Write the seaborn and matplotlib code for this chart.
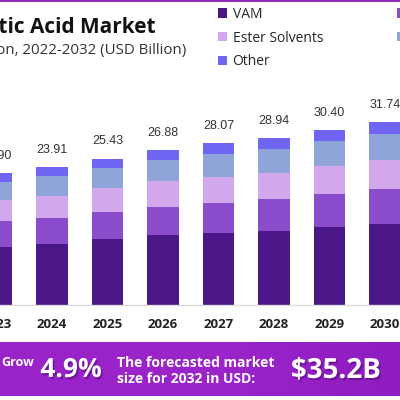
import numpy as np
import pandas as pd
import matplotlib
matplotlib.use("Agg")
import matplotlib.pyplot as plt
import matplotlib.patheffects as pe
from matplotlib.patches import Patch, Rectangle
from matplotlib.colors import LinearSegmentedColormap
import seaborn as sns

# values (USD billion)
years = ['2023', '2024', '2025', '2026', '2027', '2028', '2029', '2030']
totals = [22.90, 23.91, 25.43, 26.88, 28.07, 28.94, 30.40, 31.74]
vam = [10.07, 10.62, 11.39, 12.10, 12.48, 12.87, 13.54, 14.12]
anhydride = [4.44, 4.56, 4.80, 4.97, 5.30, 5.55, 5.72, 6.01]
ester = [3.64, 3.76, 4.16, 4.44, 4.51, 4.56, 4.90, 5.08]
pta = [3.29, 3.41, 3.40, 3.64, 3.93, 4.05, 4.28, 4.45]
other = [1.46, 1.56, 1.68, 1.73, 1.85, 1.91, 1.96, 2.08]

segments = ['VAM', 'Acetic Anhydride', 'Ester Solvents', 'PTA', 'Other']
colors = ['#4b1688', '#8a4ccb', '#d3a7ec', '#8fa5da', '#7065f2']

df = pd.DataFrame({'year': years, 'VAM': vam, 'Acetic Anhydride': anhydride,
                   'Ester Solvents': ester, 'PTA': pta, 'Other': other})
cum = df[segments].cumsum(axis=1)

sns.set_theme(style='white')
plt.rcParams['font.family'] = ['Open Sans', 'DejaVu Sans']

fig = plt.figure(figsize=(4, 4), dpi=100)
fig.patch.set_facecolor('white')

# bar area (extends a bit past the figure edges, the chart is cropped)
ax = fig.add_axes([-0.05, 95 / 400, 1.1, 305 / 400])
ax.set_facecolor('none')
for seg, col in reversed(list(zip(segments, colors))):
    sns.barplot(x=df['year'], y=cum[seg], color=col, width=0.56,
                saturation=1, linewidth=0, order=years, ax=ax)

ax.set_xlim(-0.297, 7.631)
ax.set_ylim(0, 305 / 5.76)
ax.set_xlabel('')
ax.set_ylabel('')
ax.set_yticks([])
ax.tick_params(axis='x', length=0, pad=9)
for lab in ax.get_xticklabels():
    lab.set_fontsize(9.5)
    lab.set_fontweight('bold')
    lab.set_color('#222222')
for s in ['top', 'left', 'right']:
    ax.spines[s].set_visible(False)
ax.spines['bottom'].set_color('#dddddd')
ax.spines['bottom'].set_linewidth(1)

for i, t in enumerate(totals):
    ax.annotate(f'{t:.2f}', (i, cum['Other'][i]), xytext=(0, 8),
                textcoords='offset points', ha='center', va='bottom',
                fontsize=9, color='#333333', family=['Liberation Sans'])

# title (left part cropped off)
fig.text(156 / 400, 1 - 33 / 400, 'Acetic Acid Market', ha='right',
         va='baseline', fontsize=15, fontweight='bold', color='#111111')
fig.text(186 / 400, 1 - 54 / 400, 'By Application, 2022-2032 (USD Billion)',
         ha='right', va='baseline', fontsize=10.8, color='#333333')

# legend
handles = [Patch(facecolor=c, edgecolor='none', label=s) for s, c in zip(segments, colors)]
order = [0, 2, 4, 1, 3]
fig.legend([handles[k] for k in order], [segments[k] for k in order],
           loc='upper left', bbox_to_anchor=(218 / 400, 1 - 7 / 400), ncol=2,
           frameon=False, fontsize=10, handlelength=0.65, handleheight=0.65,
           handletextpad=0.4, labelspacing=0.62, columnspacing=5.3,
           borderpad=0, borderaxespad=0)

# top accent line
fig.patches.append(Rectangle((0, 1 - 2 / 400), 1, 2 / 400, transform=fig.transFigure,
                             facecolor='#8e2db8', edgecolor='none', zorder=5))

# bottom banner
bax = fig.add_axes([0, 4 / 400, 1, 54 / 400])
grad = np.linspace(0, 1, 256).reshape(1, -1)
cmap = LinearSegmentedColormap.from_list('ban', ['#9a22c9', '#9c24cb', '#8f1dc0'])
bax.imshow(grad, aspect='auto', cmap=cmap, extent=[0, 1, 0, 1])
bax.axis('off')

shadow = [pe.withSimplePatchShadow(offset=(1.2, -1.5), shadow_rgbFace='#4a0a70', alpha=0.5)]
fig.text(1 / 400, 1 - 363 / 400, 'Grow', ha='left', va='center', fontsize=9,
         fontweight='bold', color='white', zorder=6)
fig.text(71 / 400, 1 - 377 / 400, '4.9%', ha='center', va='baseline', fontsize=19,
         fontweight='bold', color='white', path_effects=shadow, zorder=6)
fig.text(117 / 400, 1 - 371 / 400, 'The forecasted market\nsize for 2032 in USD:',
         ha='left', va='center', fontsize=10, fontweight='bold', color='white',
         linespacing=1.2, zorder=6)
fig.text(336 / 400, 1 - 378 / 400, '$35.2B', ha='center', va='baseline', fontsize=20,
         fontweight='bold', color='white', path_effects=shadow, zorder=6)

fig.savefig('out.png', dpi=100)
